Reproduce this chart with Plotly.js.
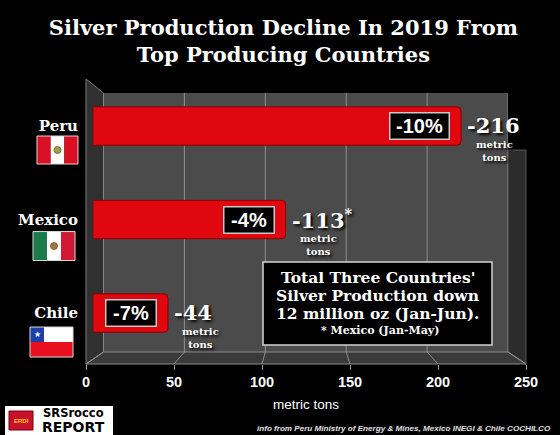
<!DOCTYPE html>
<html><head><meta charset="utf-8">
<script src="https://cdn.plot.ly/plotly-3.0.1.min.js"></script>
<style>html,body{margin:0;padding:0;background:#000;}#chart{width:560px;height:435px;}</style>
</head><body><div id="chart"></div>
<script>
// ---- data ----
const categories = ['Peru', 'Mexico', 'Chile'];
const declineTons = [216, 113, 44];
const declinePct = ['-10%', '-4%', '-7%'];
const valueNotes = ['', '*', ''];
const xTickVals = [0, 50, 100, 150, 200, 250];
const xTickText = ['0', '50', '100', '150', '200', '250'];
const titleLines = ['Silver Production Decline In 2019 From', 'Top Producing Countries'];
const boxLines = ["Total Three Countries'", 'Silver Production down', '12 million oz (Jan-Jun).'];
const boxNote = '* Mexico (Jan-May)';
const sourceText = 'info from Peru Ministry of Energy &amp; Mines, Mexico INEGI &amp; Chile COCHILCO';

// ---- geometry helpers (style only) ----
const W = 560, H = 435, L = 86, R = 34, T = 79, B = 71;
const PW = W - L - R, PH = H - T - B;
const px = x => (x - L) / PW;
const py = y => (H - B - y) / PH;
const backDom = [px(103.5), px(508)];
const barDom = [px(93), px(519)];
const backTop = py(93), backBot = py(352);
const catOrder = categories.slice().reverse();
const idx = c => catOrder.indexOf(c);

const serif = 'DejaVu Serif';
const sans = 'Liberation Sans';
const txtShadow = '2px 2px 3px #000';

const barTrace = {
  type: 'bar', orientation: 'h', x: declineTons, y: categories,
  xaxis: 'x', yaxis: 'y', width: 0.41,
  marker: {color: '#e1070f', line: {color: '#8a0000', width: 1}, cornerradius: 4},
  hoverinfo: 'skip'
};
// empty trace so the front (tick) axis is drawn
const axisTrace = {type: 'scatter', mode: 'markers', x: [], y: [], xaxis: 'x2', yaxis: 'y', hoverinfo: 'skip'};

const shapes = [];
shapes.push({type: 'rect', xref: 'paper', yref: 'paper', x0: backDom[0], x1: backDom[1], y0: backBot, y1: backTop,
  fillcolor: '#4b4b4b', line: {width: 0}, layer: 'below'});
shapes.push({type: 'path', xref: 'paper', yref: 'paper', layer: 'below',
  path: `M0,1 L${backDom[0]},${backTop} L${backDom[0]},${backBot} L0,0 Z`,
  fillcolor: '#303030', line: {color: '#7a7a7a', width: 1}});
shapes.push({type: 'path', xref: 'paper', yref: 'paper', layer: 'below',
  path: `M1,${py(150)} L${backDom[1]},${py(150)} L${backDom[1]},${backBot} L1,0 Z`,
  fillcolor: '#2c2c2c', line: {color: '#555', width: 1}});
shapes.push({type: 'path', xref: 'paper', yref: 'paper', layer: 'below',
  path: `M${backDom[0]},${backBot} L${backDom[1]},${backBot} L1,0 L0,0 Z`,
  fillcolor: '#3a3a3a', line: {color: '#8a8a8a', width: 1}});
xTickVals.forEach(v => {
  shapes.push({type: 'line', xref: 'x3', yref: 'paper', x0: v, x1: v, y0: backBot, y1: backTop,
    line: {color: '#8e8e8e', width: 1}, layer: 'below'});
  const xb = backDom[0] + v / 250 * (backDom[1] - backDom[0]);
  const xf = v / 250;
  shapes.push({type: 'path', xref: 'paper', yref: 'paper', layer: 'below',
    path: `M${xb},${backBot} L${xf},0`, line: {color: '#8e8e8e', width: 1}});
});

// flags (decoration)
function stripesV(cat, left, right, top, bot, colors) {
  const w = (right - left) / colors.length;
  colors.forEach((c, k) => {
    shapes.push({type: 'rect', xref: 'paper', xsizemode: 'pixel', xanchor: 0,
      x0: left - L + k * w, x1: left - L + (k + 1) * w,
      yref: 'y', ysizemode: 'pixel', yanchor: idx(cat), y0: -bot, y1: -top,
      fillcolor: c, line: {width: 0}, layer: 'above'});
  });
  shapes.push({type: 'rect', xref: 'paper', xsizemode: 'pixel', xanchor: 0, x0: left - L, x1: right - L,
    yref: 'y', ysizemode: 'pixel', yanchor: idx(cat), y0: -bot, y1: -top,
    fillcolor: 'rgba(0,0,0,0)', line: {color: '#d8d8d8', width: 1}, layer: 'above'});
}
function emblem(cat, cx, cy, r, col) {
  shapes.push({type: 'circle', xref: 'paper', xsizemode: 'pixel', xanchor: 0, x0: cx - L - r, x1: cx - L + r,
    yref: 'y', ysizemode: 'pixel', yanchor: idx(cat), y0: -cy - r, y1: -cy + r,
    fillcolor: col, line: {color: '#6b5a2a', width: 0.8}, layer: 'above'});
}
stripesV('Peru', 37, 78, 10, 38, ['#d91023', '#ffffff', '#d91023']);
emblem('Peru', 57.5, 24, 3.5, '#9aa54a');
stripesV('Mexico', 33, 75, 12, 41, ['#1d7a4a', '#ffffff', '#d01a35']);
emblem('Mexico', 54, 26.5, 3.5, '#a8753a');
(function () {
  const cat = 'Chile', left = 30, right = 73, top = 14, bot = 44, mid = 29, cant = 44;
  const add = (x0, x1, y0, y1, c) => shapes.push({type: 'rect', xref: 'paper', xsizemode: 'pixel', xanchor: 0,
    x0: x0 - L, x1: x1 - L, yref: 'y', ysizemode: 'pixel', yanchor: idx(cat), y0: -y1, y1: -y0,
    fillcolor: c, line: {width: 0}, layer: 'above'});
  add(left, right, top, mid, '#ffffff');
  add(left, cant, top, mid, '#1d3fa8');
  add(left, right, mid, bot, '#e8101e');
  shapes.push({type: 'rect', xref: 'paper', xsizemode: 'pixel', xanchor: 0, x0: left - L, x1: right - L,
    yref: 'y', ysizemode: 'pixel', yanchor: idx(cat), y0: -bot, y1: -top,
    fillcolor: 'rgba(0,0,0,0)', line: {color: '#d8d8d8', width: 1}, layer: 'above'});
})();

// total box
shapes.push({type: 'rect', xref: 'paper', yref: 'paper', x0: px(263), x1: px(492), y0: py(345), y1: py(262),
  fillcolor: '#000', line: {color: '#d2d2d2', width: 1.5}, layer: 'above'});
// logo
shapes.push({type: 'rect', xref: 'paper', yref: 'paper', x0: px(5), x1: px(113), y0: py(435), y1: py(406),
  fillcolor: '#ffffff', line: {width: 0}, layer: 'above'});
shapes.push({type: 'rect', xref: 'paper', yref: 'paper', x0: px(9), x1: px(33), y0: py(430), y1: py(411),
  fillcolor: '#c8102e', line: {color: '#700', width: 1}, layer: 'above'});

const annotations = [];
categories.forEach((c, i) => {
  annotations.push({xref: 'x', yref: 'y', x: declineTons[i], y: c, xanchor: 'right', yanchor: 'middle',
    xshift: -11, text: declinePct[i], showarrow: false,
    font: {family: sans, size: 20, weight: 'bold', color: '#fff'},
    bgcolor: '#000', bordercolor: '#c8c8c8', borderwidth: 1.5, borderpad: 1.5,
    width: 19 + 9 * declinePct[i].length, height: 22, align: 'center'});
  annotations.push({xref: 'x', yref: 'y', x: declineTons[i], y: c, xanchor: 'left', yanchor: 'middle',
    xshift: 4, yshift: 1,
    text: '-' + declineTons[i] + (valueNotes[i] ? '<sup>' + valueNotes[i] + '</sup>' : ''),
    showarrow: false, font: {family: serif, size: 21, weight: 'bold', color: '#fff', shadow: txtShadow}});
  annotations.push({xref: 'x', yref: 'y', x: declineTons[i], y: c, xanchor: 'center', yanchor: 'middle',
    xshift: 33, yshift: -25, text: 'metric<br>tons', showarrow: false,
    font: {family: serif, size: 10, weight: 'bold', color: '#fff', shadow: txtShadow}});
});
const boxY = [277, 295, 313];
boxLines.forEach((t, k) => annotations.push({xref: 'paper', yref: 'paper', x: px(377.5), y: py(boxY[k]),
  xanchor: 'center', yanchor: 'middle', text: t, showarrow: false,
  font: {family: serif, size: 15.5, weight: 'bold', color: '#fff'}}));
annotations.push({xref: 'paper', yref: 'paper', x: px(380), y: py(330), xanchor: 'center', yanchor: 'middle',
  text: boxNote, showarrow: false, font: {family: serif, size: 11, weight: 'bold', color: '#fff'}});
// logo text
annotations.push({xref: 'paper', yref: 'paper', x: px(21), y: py(420.5), xanchor: 'center', yanchor: 'middle',
  text: 'ERDI', showarrow: false, font: {family: sans, size: 6, weight: 'bold', color: '#ffd400'}});
annotations.push({xref: 'paper', yref: 'paper', x: px(73.5), y: py(412.5), xanchor: 'center', yanchor: 'middle',
  text: 'SRSrocco', showarrow: false, borderpad: 0,
  font: {family: 'DejaVu Sans', size: 11.5, weight: 'bold', color: '#000'}});
annotations.push({xref: 'paper', yref: 'paper', x: px(73.5), y: py(426.5), xanchor: 'center', yanchor: 'middle',
  text: 'REPORT', showarrow: false, borderpad: 0,
  font: {family: 'DejaVu Sans', size: 14, weight: 'bold', color: '#000'}});
annotations.push({xref: 'paper', yref: 'paper', x: px(553), y: py(428), xanchor: 'right', yanchor: 'middle',
  text: sourceText, showarrow: false, font: {family: sans, size: 8.1, style: 'italic', weight: 'bold', color: '#e0e0e0'}});
annotations.push({xref: 'paper', yref: 'y', x: px(37), y: 'Chile', yshift: -21.5, xanchor: 'center', yanchor: 'middle',
  text: '★', showarrow: false, font: {family: 'DejaVu Sans', size: 8, color: '#fff'}});

const layout = {
  width: W, height: H,
  margin: {l: L, r: R, t: T, b: B, pad: 0},
  paper_bgcolor: '#000', plot_bgcolor: 'rgba(0,0,0,0)',
  showlegend: false,
  title: {text: titleLines.join('<br>'), x: 0.506, xanchor: 'center', xref: 'container',
    y: 1 - 35 / H, yanchor: 'middle', yref: 'container',
    font: {family: serif, size: 21, weight: 'bold', color: '#fff'}},
  xaxis: {domain: barDom, range: [0, 250], autorange: false, visible: false, anchor: 'y', fixedrange: true},
  xaxis2: {domain: [0, 1], range: [0, 250], autorange: false, anchor: 'y',
    tickvals: xTickVals, ticktext: xTickText, ticks: 'outside', ticklen: 5, tickcolor: '#9a9a9a',
    tickfont: {family: sans, size: 14.5, weight: 'bold', color: '#fff'},
    showgrid: false, zeroline: false, showline: false,
    title: {text: 'metric tons', standoff: 10, font: {family: sans, size: 13.5, color: '#fff'}}},
  xaxis3: {domain: backDom, range: [0, 250], autorange: false, visible: false, anchor: 'y'},
  yaxis: {type: 'category', categoryorder: 'array', categoryarray: catOrder,
    range: [-0.545, 2.503], autorange: false, showgrid: false, zeroline: false, showline: false,
    ticks: 'outside', ticklen: 11, tickcolor: 'rgba(0,0,0,0)',
    tickfont: {family: serif, size: 15, weight: 'bold', color: '#fff'}},
  shapes: shapes,
  annotations: annotations
};

Plotly.newPlot('chart', [barTrace, axisTrace], layout, {displayModeBar: false, staticPlot: true});
</script>
</body></html>
